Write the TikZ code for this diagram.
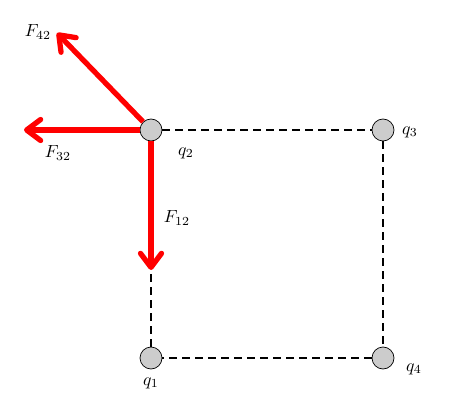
\documentclass[tikz,border=0pt]{standalone}
\usetikzlibrary{arrows.meta}

\begin{document}
\begin{tikzpicture}[x=0.02cm,y=-0.02cm,
    charge/.style={circle,draw,thin,fill=gray!40,inner sep=0pt,minimum size=0.44cm},
    bond/.style={dashed,line width=1.3pt,dash pattern=on 0.16cm off 0.1cm},
    force/.style={red,line width=3pt,-{Straight Barb[length=0.28cm,width=0.42cm,round]}}]
                        \useasboundingbox (0,0) rectangle (450,412);
                        \node[charge] (q2) at (151,130) {};
                        \node[charge] (q3) at (383,130) {};
                        \node[charge] (q1) at (151,358) {};
                        \node[charge] (q4) at (383,358) {};
                        \draw[bond] (q2) -- (q3);
                        \draw[bond] (q3) -- (q4);
                        \draw[bond] (q4) -- (q1);
                        \draw[bond] (q1) -- (q2);
                        \coordinate (f42) at (57,33);
                        \coordinate (f32) at (24,130);
                        \coordinate (f12) at (151,270);
                        \draw[force] (q2) -- (f42);
                        \draw[force] (q2) -- (f32);
                        \draw[force] (q2) -- (f12);
                        \node (l42) at (38,32) {$F_{42}$};
                        \node (l32) at (58,153) {$F_{32}$};
                        \node (l12) at (177,218) {$F_{12}$};
                        \node (l2) at (186,153) {$q_2$};
                        \node (l3) at (410,132) {$q_3$};
                        \node (l1) at (151,383) {$q_1$};
                        \node (l4) at (414,369) {$q_4$};
                    \end{tikzpicture}
\end{document}
